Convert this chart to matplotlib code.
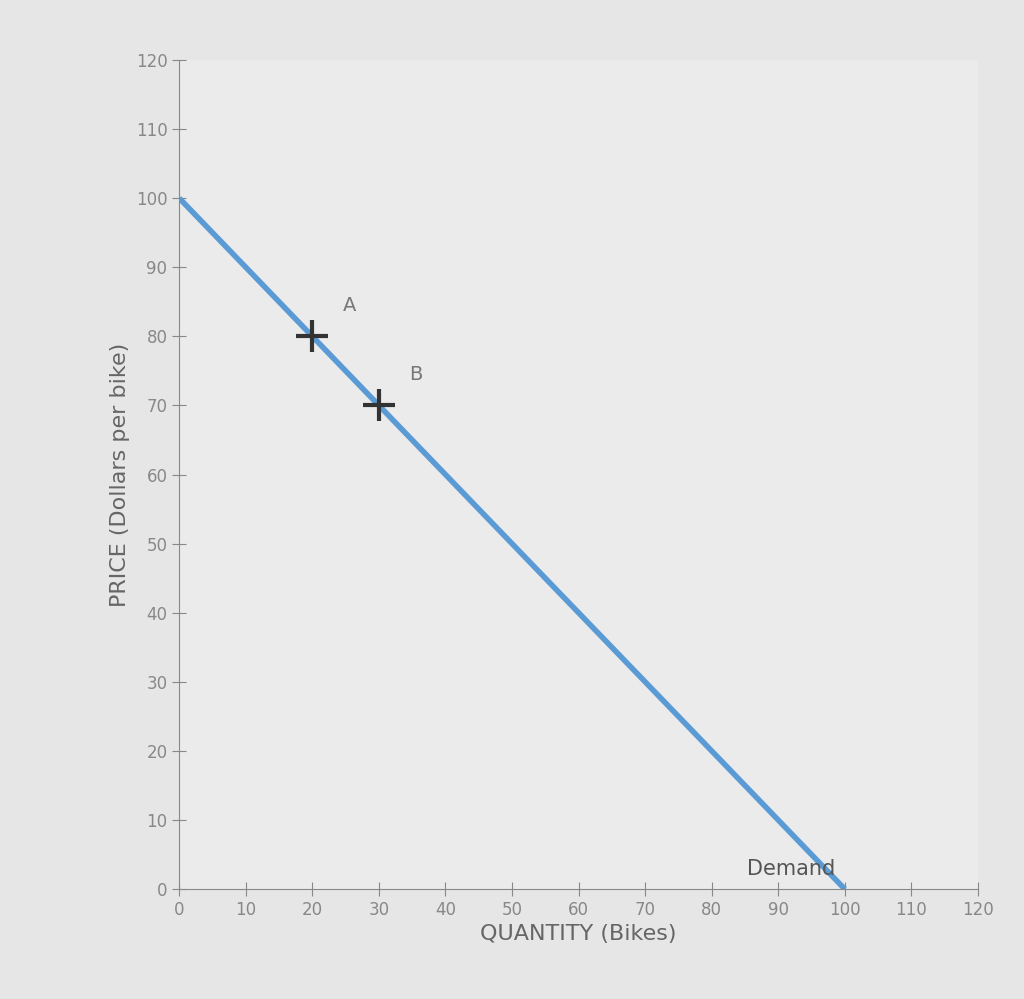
import matplotlib
matplotlib.use("Agg")
import matplotlib.pyplot as plt

demand_q = [0, 100]
demand_p = [100, 0]
point_labels = ["A", "B"]
point_q = [20, 30]
point_p = [80, 70]
ticks = list(range(0, 121, 10))

fig = plt.figure(figsize=(10.24, 9.99), dpi=100, facecolor="#e6e6e6")
ax = fig.add_axes([0.175, 0.11, 0.78, 0.83], facecolor="#ebebeb")
ax.plot(demand_q, demand_p, color="#5b9bd5", lw=4, solid_capstyle="butt", zorder=2)
ax.scatter(point_q, point_p, marker="+", s=500, color="#333333", linewidths=3, zorder=3)
for l, q, p in zip(point_labels, point_q, point_p):
    ax.annotate(l, (q, p), xytext=(22, 18), textcoords="offset points", fontsize=14, color="#777777")
ax.text(92, 1.5, "Demand", fontsize=15, color="#555555", ha="center", va="bottom")
ax.set_xlim(0, 120)
ax.set_ylim(0, 120)
ax.set_xticks(ticks)
ax.set_yticks(ticks)
for s in ["top", "right"]:
    ax.spines[s].set_visible(False)
for s in ["left", "bottom"]:
    ax.spines[s].set_color("#888888")
ax.tick_params(colors="#888888", labelcolor="#888888", labelsize=12, direction="inout", length=10)
ax.set_xlabel("QUANTITY (Bikes)", fontsize=16, color="#666666")
ax.set_ylabel("PRICE (Dollars per bike)", fontsize=16, color="#666666")
fig.savefig("out.png", dpi=100, facecolor=fig.get_facecolor())
